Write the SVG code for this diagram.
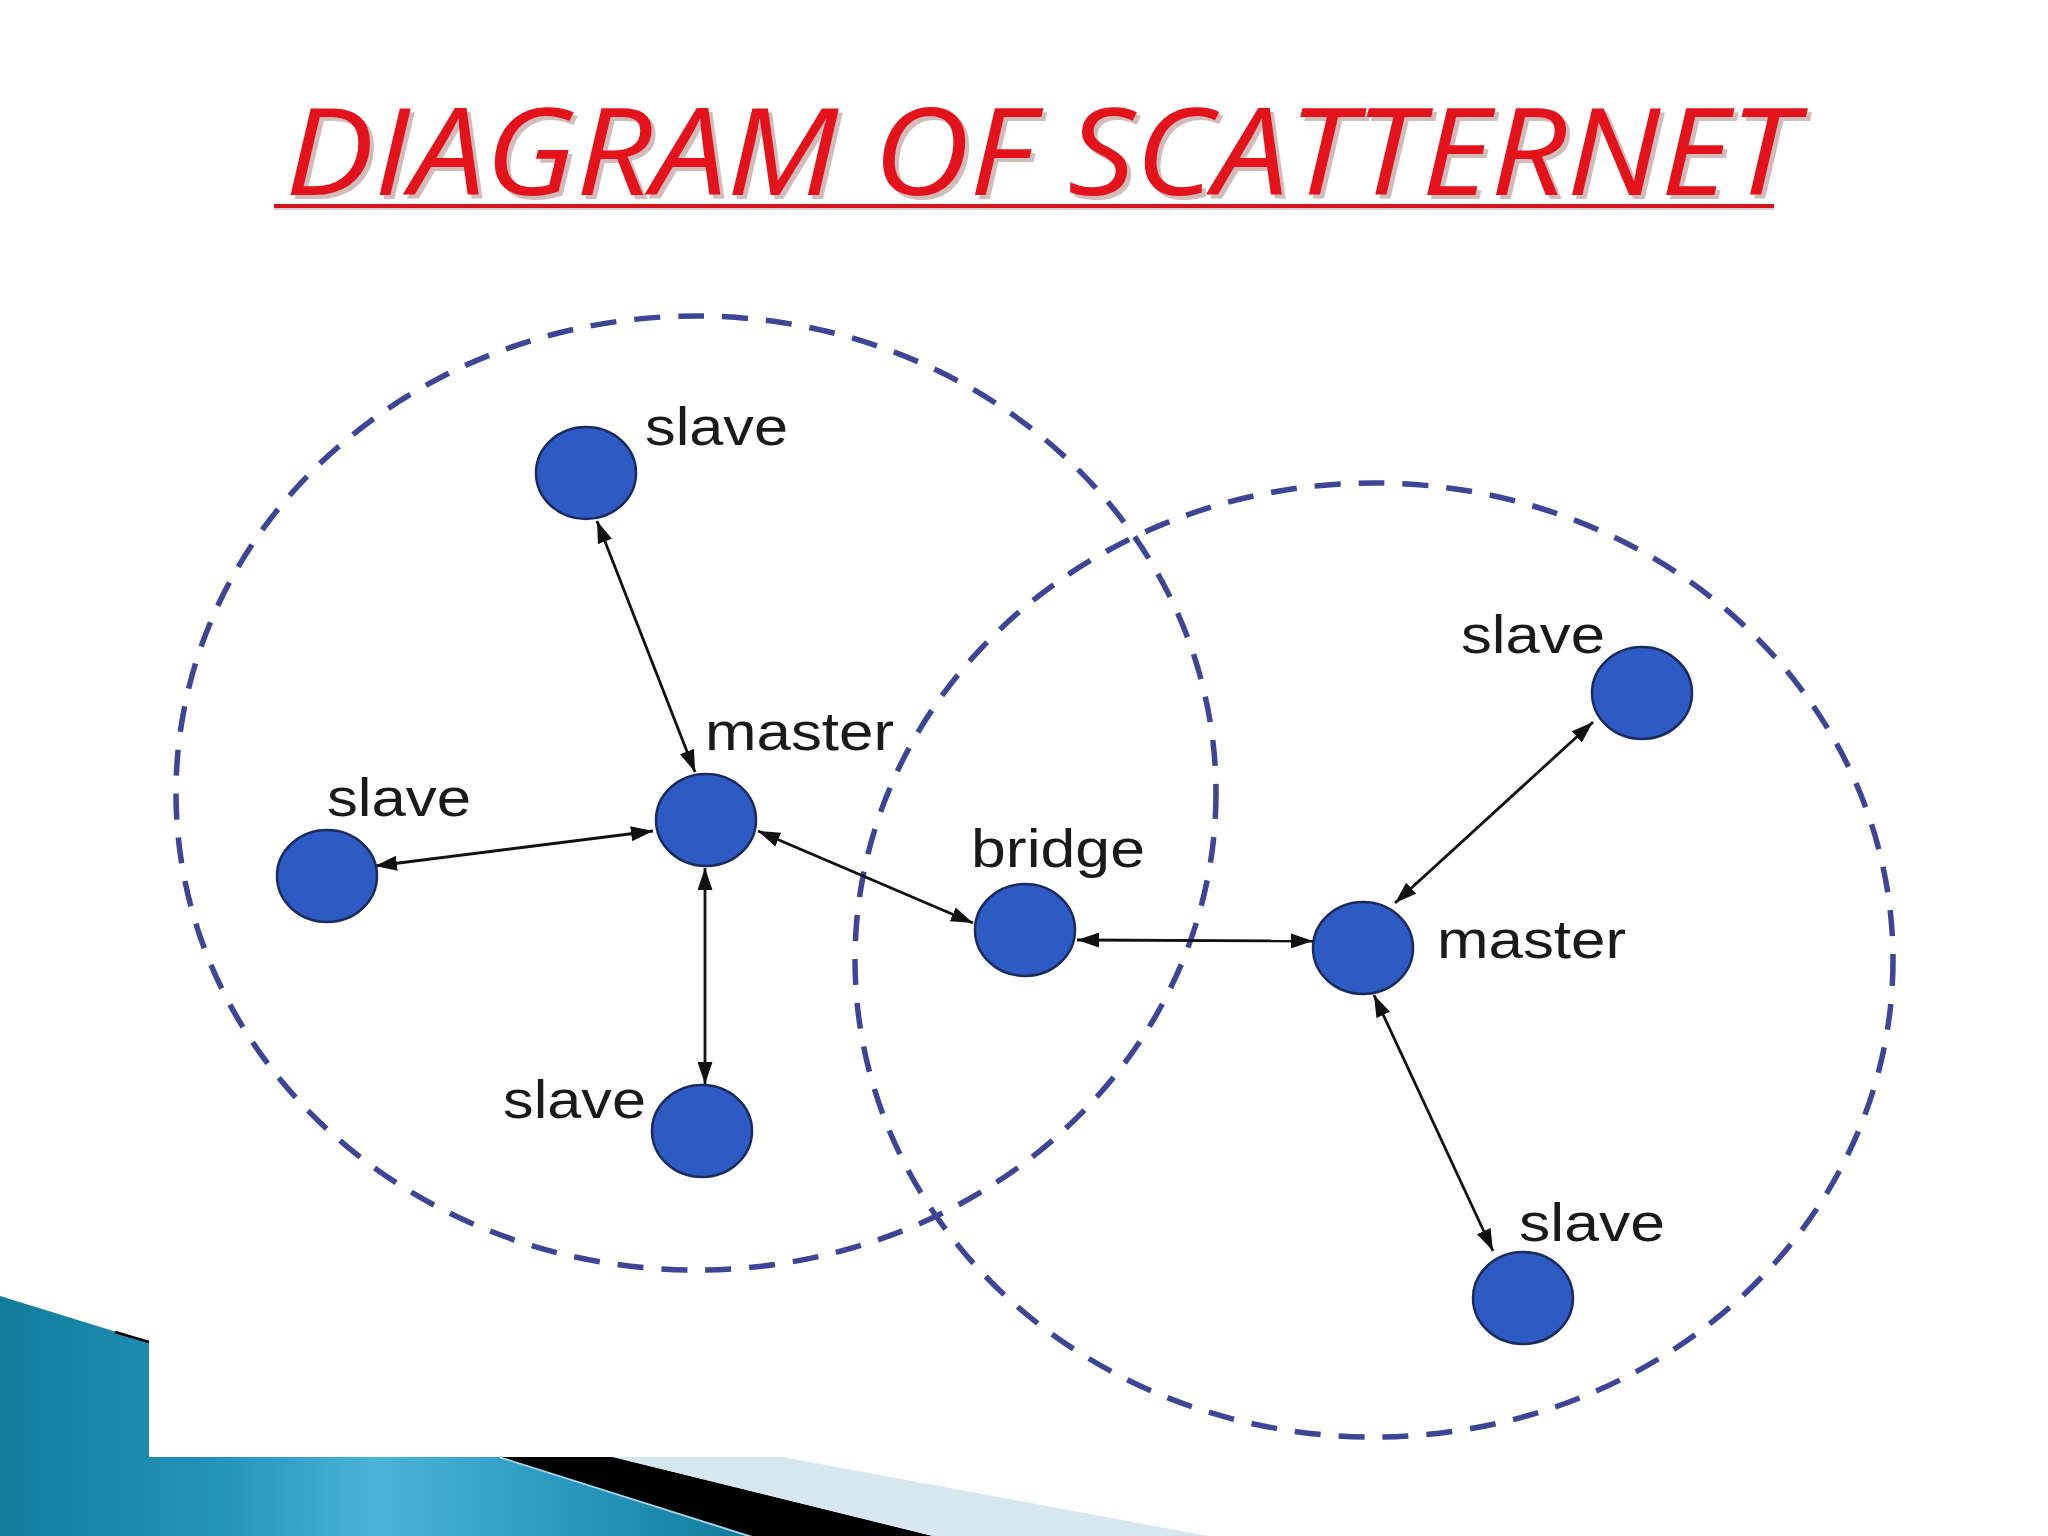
<svg xmlns="http://www.w3.org/2000/svg" width="2048" height="1536" viewBox="0 0 2048 1536">
<defs>
<style>
.title{font-family:"Open Sans","Liberation Sans",sans-serif;font-style:italic;font-size:120px;fill:#e3121b}
.title-sh{font-family:"Open Sans","Liberation Sans",sans-serif;font-style:italic;font-size:120px;fill:#9a6a6a;opacity:0.45}
.ring{fill:none;stroke:#3c4596;stroke-width:5.5;stroke-dasharray:26 18}
.node{fill:#2d5bc3;stroke:#1b2a5e;stroke-width:2.5}
.lbl{font-family:"Liberation Sans",Arial,sans-serif;font-size:53px;fill:#1a1a1a}
.conn{stroke:#111;stroke-width:2.8;fill:none;marker-start:url(#ah);marker-end:url(#ah)}
</style>
<marker id="ah" viewBox="0 0 22 15" refX="22" refY="7.5" markerWidth="22" markerHeight="15" markerUnits="userSpaceOnUse" orient="auto-start-reverse">
<path d="M0,0 L22,7.5 L0,15 Z" fill="#111"/>
</marker>
<linearGradient id="teal" x1="0" y1="0" x2="750" y2="0" gradientUnits="userSpaceOnUse">
<stop offset="0" stop-color="#127c9c"/>
<stop offset="0.3" stop-color="#2394ba"/>
<stop offset="0.5" stop-color="#4cb3d7"/>
<stop offset="0.75" stop-color="#2a99c0"/>
<stop offset="1" stop-color="#117a99"/>
</linearGradient>
</defs>
<rect width="2048" height="1536" fill="#ffffff"/>

<g id="title">
<text class="title-sh" x="289" y="199" textLength="1511" lengthAdjust="spacingAndGlyphs">DIAGRAM OF SCATTERNET</text>
<text class="title" x="285" y="195" textLength="1511" lengthAdjust="spacingAndGlyphs">DIAGRAM OF SCATTERNET</text>
<rect x="274" y="206" width="1500" height="4" fill="#b8b0b0" opacity="0.6"/>
<rect x="274" y="204" width="1500" height="4" fill="#d8121b"/>
</g>

<g id="piconets">
<ellipse class="ring" cx="696" cy="793" rx="520" ry="477"/>
<ellipse class="ring" cx="1374" cy="960" rx="519" ry="477"/>
</g>

<g id="connectors">
<line class="conn" x1="597" y1="521" x2="695" y2="772"/>
<line class="conn" x1="375" y1="866" x2="653" y2="831"/>
<line class="conn" x1="705" y1="868" x2="705" y2="1084"/>
<line class="conn" x1="758" y1="831" x2="973" y2="923"/>
<line class="conn" x1="1077" y1="940" x2="1313" y2="941"/>
<line class="conn" x1="1395" y1="903" x2="1593" y2="722"/>
<line class="conn" x1="1374" y1="995" x2="1493" y2="1251"/>
</g>

<g id="slave-top"><ellipse class="node" cx="586" cy="473" rx="50" ry="46"/><text class="lbl" x="645" y="445" textLength="143" lengthAdjust="spacingAndGlyphs">slave</text></g>
<g id="master-left"><ellipse class="node" cx="706" cy="820" rx="50" ry="46"/><text class="lbl" x="705" y="750" textLength="189" lengthAdjust="spacingAndGlyphs">master</text></g>
<g id="slave-left"><ellipse class="node" cx="327" cy="876" rx="50" ry="46"/><text class="lbl" x="327" y="816" textLength="144" lengthAdjust="spacingAndGlyphs">slave</text></g>
<g id="slave-bottom"><ellipse class="node" cx="702" cy="1131" rx="50" ry="46"/><text class="lbl" x="503" y="1118" textLength="143" lengthAdjust="spacingAndGlyphs">slave</text></g>
<g id="bridge"><ellipse class="node" cx="1025" cy="930" rx="50" ry="46"/><text class="lbl" x="971" y="867" textLength="174" lengthAdjust="spacingAndGlyphs">bridge</text></g>
<g id="master-right"><ellipse class="node" cx="1363" cy="948" rx="50" ry="46"/><text class="lbl" x="1437" y="958" textLength="189" lengthAdjust="spacingAndGlyphs">master</text></g>
<g id="slave-right-top"><ellipse class="node" cx="1642" cy="693" rx="50" ry="46"/><text class="lbl" x="1461" y="653" textLength="144" lengthAdjust="spacingAndGlyphs">slave</text></g>
<g id="slave-right-bottom"><ellipse class="node" cx="1523" cy="1298" rx="50" ry="46"/><text class="lbl" x="1519" y="1241" textLength="146" lengthAdjust="spacingAndGlyphs">slave</text></g>

<g id="decoration">
<path d="M0,1296 L149,1342 L149,1457 L500,1457 L750,1536 L0,1536 Z" fill="url(#teal)"/>
<line x1="115" y1="1332" x2="149" y2="1342" stroke="#000" stroke-width="2.5"/>
<line x1="500" y1="1457" x2="750" y2="1536" stroke="#a8d8ea" stroke-width="2.5"/>
<path d="M502,1457 L613,1457 L933,1536 L752,1536 Z" fill="#000"/>
<path d="M613,1457 L783,1457 L1208,1536 L933,1536 Z" fill="#d6e7f0"/>
</g>
</svg>
